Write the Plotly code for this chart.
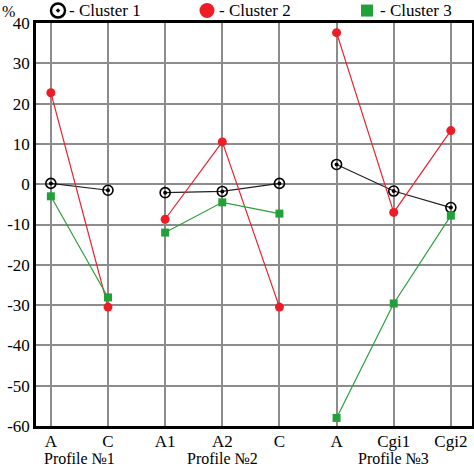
import plotly.graph_objects as go

categories = ["A", "C", "A1", "A2", "C", "A", "Cgi1", "Cgi2"]
profile_of = [1, 1, 2, 2, 2, 3, 3, 3]
profile_labels = ["Profile №1", "Profile №2", "Profile №3"]
profile_centers = [0.5, 3, 6]
series_names = ["- Cluster 1", "- Cluster 2", "- Cluster 3"]

cluster1 = [0.2, -1.5, -2.1, -1.8, 0.2, 4.9, -1.7, -5.8]
cluster2 = [22.7, -30.5, -8.7, 10.5, -30.5, 37.6, -7.0, 13.3]
cluster3 = [-3.0, -28.1, -12.0, -4.5, -7.3, -58.0, -29.6, -7.8]

y_ticks = [-60, -50, -40, -30, -20, -10, 0, 10, 20, 30, 40]
y_ticktext = ["-60", "-50", "-40", "-30", "-20", "-10", "0", "10", "20", "30", "40"]


def split(vals):
    xs, ys = [], []
    for i, v in enumerate(vals):
        if i > 0 and profile_of[i] != profile_of[i - 1]:
            xs.append(None)
            ys.append(None)
        xs.append(i)
        ys.append(v)
    return xs, ys


fig = go.Figure()
serif = "Liberation Serif, Times New Roman, serif"

x1, y1 = split(cluster1)
x2, y2 = split(cluster2)
x3, y3 = split(cluster3)

black_line = "#222222"
red = "#ee1c25"
green = "#22a03a"

fig.add_trace(go.Scatter(
    x=x1, y=y1, mode="lines+markers", showlegend=False,
    line=dict(color=black_line, width=1.2),
    marker=dict(symbol="circle-open", size=10, color="black",
                line=dict(color="black", width=1.6)),
))
fig.add_trace(go.Scatter(
    x=x1, y=y1, mode="markers", showlegend=False, hoverinfo="skip",
    marker=dict(symbol="circle", size=4, color="black"),
))
fig.add_trace(go.Scatter(
    x=x2, y=y2, mode="lines+markers", showlegend=False,
    line=dict(color="#e8202e", width=1.2),
    marker=dict(symbol="circle", size=9, color=red),
))
fig.add_trace(go.Scatter(
    x=x3, y=y3, mode="lines+markers", showlegend=False,
    line=dict(color="#2ca03c", width=1.2),
    marker=dict(symbol="square", size=8, color=green),
))

# legend-only symbols (markers without lines, as in the reference)
fig.add_trace(go.Scatter(
    x=[None], y=[None], mode="markers", name=" ", legend="legend",
    marker=dict(symbol="circle-dot", size=14, color="white",
                line=dict(color="black", width=2.5)),
))
fig.add_trace(go.Scatter(
    x=[None], y=[None], mode="markers", name=" ", legend="legend2",
    marker=dict(symbol="circle", size=15, color=red),
))
fig.add_trace(go.Scatter(
    x=[None], y=[None], mode="markers", name=" ", legend="legend3",
    marker=dict(symbol="square", size=12, color=green),
))

# legend texts (pixel offsets relative to the plot area's left edge at 36 px)
for name, px in zip(series_names, [67, 217, 378]):
    fig.add_annotation(x=0, y=1, xref="paper", yref="paper",
                       xanchor="left", yanchor="middle",
                       xshift=px - 36, yshift=13, text=name,
                       showarrow=False,
                       font=dict(family=serif, size=17, color="black"))

for lab, cx in zip(profile_labels, profile_centers):
    fig.add_annotation(x=cx, y=0, xref="x", yref="paper", yanchor="top",
                       yshift=-22, text=lab, showarrow=False,
                       font=dict(family=serif, size=16, color="black"))

fig.add_annotation(x=0, y=1, xref="paper", yref="paper", xanchor="left",
                   yanchor="bottom", xshift=-36, yshift=1, text="%",
                   showarrow=False, font=dict(family=serif, size=16, color="black"))

leg_common = dict(orientation="h", xref="container", yref="container",
                  xanchor="left", yanchor="middle", y=1 - 11 / 467,
                  font=dict(family=serif, size=17, color="black"),
                  itemsizing="trace", bgcolor="rgba(0,0,0,0)",
                  borderwidth=0)

fig.update_layout(
    width=474, height=467,
    margin=dict(l=36, r=2, t=23, b=41, autoexpand=False),
    paper_bgcolor="white", plot_bgcolor="white",
    font=dict(family=serif, size=17, color="black"),
    showlegend=True,
    legend=dict(x=38 / 474, **leg_common),
    legend2=dict(x=187 / 474, **leg_common),
    legend3=dict(x=347 / 474, **leg_common),
)
fig.update_xaxes(
    range=[-0.26, 7.37], tickmode="array", tickvals=list(range(len(categories))),
    ticktext=categories, showgrid=True, gridcolor="#8c8c8c", gridwidth=1.5,
    showline=True, mirror=True, linecolor="black", linewidth=2.5,
    zeroline=False, ticks="", tickfont=dict(family=serif, size=17),
    ticklabelstandoff=-2,
)
fig.update_yaxes(
    range=[-60, 40], tickmode="array", tickvals=y_ticks, ticktext=y_ticktext,
    showgrid=True, gridcolor="#8c8c8c", gridwidth=1.5,
    showline=True, mirror=True, linecolor="black", linewidth=2.5,
    zeroline=False, ticks="", tickfont=dict(family=serif, size=17),
)

fig.write_html("out.html")
